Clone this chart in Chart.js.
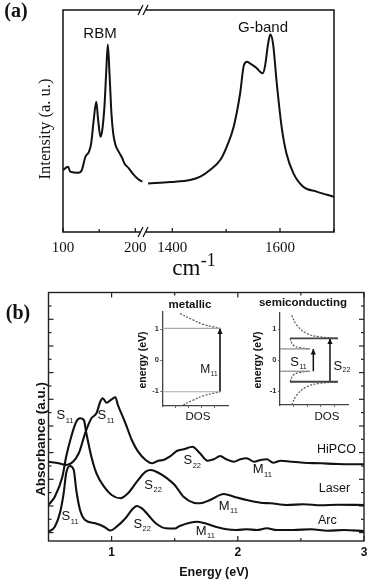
<!DOCTYPE html>
<html>
<head>
<meta charset="utf-8">
<script src="https://cdn.jsdelivr.net/npm/chart.js@4.4.1/dist/chart.umd.min.js"></script>
<style>
  html, body { margin:0; padding:0; background:#fff; }
  #wrap { position:relative; width:370px; height:583px; overflow:hidden; background:#fff; }
  #wrap canvas { position:absolute; }
</style>
</head>
<body>
<div id="wrap">
  <canvas id="chartA" width="370" height="290" style="left:0;top:0;width:370px;height:290px;"></canvas>
  <canvas id="chartB" width="370" height="293" style="left:0;top:290px;width:370px;height:293px;"></canvas>
  <canvas id="insetM" width="104" height="135" style="left:128px;top:295px;width:104px;height:135px;"></canvas>
  <canvas id="insetS" width="112" height="135" style="left:240px;top:295px;width:112px;height:135px;"></canvas>
</div>
<script>
// ================= DATA =================
// Panel (a): Raman spectrum, wavenumber (cm-1) vs intensity (a.u.)
const ramanLowX  = [100,107,110,121,126,131,136,139,142.5,146,148.6,151.8,154,157.3,159.7,162,164.3,167,169.4,172.6,177,182,185,191,198,203.6,209.7];
const ramanLowY  = [27.9,29.4,27.2,26.7,27.9,33.9,36.2,40,50.5,58.7,50.5,42.9,45.2,56.4,71.5,84.5,71.5,53.5,44.5,39.2,36.2,33.2,30.9,28.7,25.7,23.9,22.7];
const ramanHighX = [1355,1396,1433,1452,1470,1489,1501,1514,1526,1533,1539,1544,1556,1563,1568,1572,1578,1582,1587,1594,1603,1612,1625,1643,1668,1700];
const ramanHighY = [21.9,22.5,23.4,24.9,27.9,32.4,38.4,47.4,62.5,75.2,76.7,76.0,74.0,72.2,71.5,74.5,85.0,89.0,85.0,67.0,47.4,35.4,26.4,20.4,18.2,15.9];
const aTickValues = [100,150,200,1400,1500,1600,1700];
const aTickLabels = ['100','','200','1400','','1600',''];

// Panel (b): absorbance vs energy (eV)
const hipcoE = [0.50,0.58,0.64,0.74,0.79,0.84,0.88,0.91,0.93,0.96,1.00,1.03,1.05,1.11,1.16,1.21,1.27,1.32,1.37,1.41,1.46,1.52,1.57,1.64,1.70,1.76,1.81,1.86,1.91,1.97,2.02,2.07,2.13,2.18,2.23,2.28,2.34,2.42,2.52,2.66,2.79,3.00];
const hipcoA = [79.3,77.7,76,87.7,107.7,122.7,127.7,139.3,142.7,138.3,141.7,143.7,136,117.7,101,89.3,81,77.7,80.3,81,84.3,90.3,91.7,94.3,87.7,80.3,81.7,85,81.7,79.3,81.7,82.7,79.3,81,81.7,78.3,80.3,79.3,78.3,77.7,77,76.7];
const laserE = [0.50,0.55,0.61,0.64,0.68,0.72,0.75,0.78,0.80,0.84,0.88,0.94,1.00,1.07,1.13,1.20,1.27,1.31,1.37,1.44,1.50,1.57,1.65,1.70,1.78,1.89,1.97,2.07,2.18,2.26,2.39,2.52,2.66,2.79,3.00];
const laserA = [36,44.3,64.3,84.3,104.3,119.3,122.7,121,107.7,84.3,67.7,54.3,46,42.7,47.7,59.3,69.3,71,68.3,62.7,56,44.3,38.3,37.7,41,47,44.3,41,38.3,37.7,36,36.7,35.7,36.3,36];
const arcE   = [0.50,0.55,0.59,0.62,0.64,0.67,0.70,0.72,0.75,0.79,0.87,0.94,0.99,1.04,1.11,1.16,1.20,1.24,1.29,1.35,1.43,1.50,1.54,1.62,1.68,1.76,1.84,1.91,1.99,2.07,2.15,2.23,2.31,2.44,2.58,2.71,2.84,3.00];
const arcA   = [9.3,14.3,27.7,47.7,67.7,75,71,51,31,21,17.7,14.3,10.5,14.3,22.7,31,35,32.7,26,17.7,12.7,12.5,15,18.3,19.3,17,13.7,11.7,11,11.7,11,12.7,11,11,11.7,10.3,11,10];
const bXTickValues = [1, 1.5, 2, 2.5, 3];
const bXTickLabels = ['1', '', '2', '', '3'];
const bYTickValues = [8.4,21.7,35,48.4,61.7,75,88.4,101.7,115,128.4,141.7,155,168.4,181.7,195,208.4,221.7,235];

// Insets: density of states (DOS) vs energy (eV)
const insetETicks = [-1, 0, 1];
const insetDosTicks = [2, 4, 6, 8];
const metalDosX      = [2.69, 4.72, 6.24, 7.76, 8.78];
const metalDosUpperE = [1.50, 1.29, 1.15, 1.07, 1.03];
const metalDosLowerE = [-1.50, -1.29, -1.15, -1.07, -1.03];
const metalLevelX    = [0, 8.78];
const metalLevelE    = [1.02, -1.02];
const metalArrowX    = [8.78, 8.78];
const metalArrowE    = [-1.02, 1.02];
const semiOuterX      = [1.72, 2.46, 3.93, 5.88, 8.53];
const semiOuterUpperE = [1.45, 1.13, 0.86, 0.75, 0.71];
const semiOuterLowerE = [-1.45, -1.13, -0.86, -0.75, -0.71];
const semiInnerX      = [1.47, 1.96, 2.94, 4.41];
const semiInnerUpperE = [0.70, 0.48, 0.40, 0.36];
const semiInnerLowerE = [-0.70, -0.48, -0.40, -0.36];
const semiS22LevelX = [1.47, 8.53];
const semiS22LevelE = [0.70, -0.70];
const semiS11LevelX = [0, 4.41];
const semiS11LevelE = [0.36, -0.36];
const semiS11ArrowX = [4.9, 4.9];
const semiS11ArrowE = [-0.36, 0.36];
const semiS22ArrowX = [7.35, 7.35];
const semiS22ArrowE = [-0.70, 0.70];

// ================= HELPERS =================
const SANS = '"Liberation Sans", Arial, sans-serif';
const SERIF = '"Liberation Serif", "Times New Roman", serif';
Chart.defaults.font.family = SANS;
Chart.defaults.color = '#111';
Chart.defaults.animation = false;
Chart.defaults.events = [];
Chart.defaults.plugins.legend.display = false;
Chart.defaults.plugins.tooltip.enabled = false;

// broken x axis of panel (a): two wavenumber ranges placed side by side
const axisBreakU = 80;
function toU(w) { return w < 800 ? (w - 100) * 0.723 : 109.3 + (w - 1400) * 0.5385; }
function pts(xs, ys, fx) { return xs.map((x, i) => ({ x: fx ? fx(x) : x, y: ys[i] })); }
function hline(xs, e) { return [{ x: xs[0], y: e }, { x: xs[1], y: e }]; }
function fixedAxis(size, horizontal) {
  return s => {
    if (horizontal) s.height = size; else s.width = size;
    s.paddingLeft = 0; s.paddingRight = 0; s.paddingTop = 0; s.paddingBottom = 0;
  };
}
function drawText(ctx, it, x, y) {
  ctx.save();
  ctx.translate(x, y);
  if (it.rot) ctx.rotate(it.rot);
  ctx.fillStyle = it.color || '#111';
  ctx.textBaseline = it.baseline || 'middle';
  ctx.font = it.font;
  const w1 = ctx.measureText(it.text).width;
  let w2 = 0;
  if (it.sub) { ctx.font = it.subFont; w2 = ctx.measureText(it.sub).width + 0.5; }
  const x0 = it.align === 'left' ? 0 : -(w1 + w2) / 2;
  ctx.textAlign = 'left';
  ctx.font = it.font;
  ctx.fillText(it.text, x0, 0);
  if (it.sub) { ctx.font = it.subFont; ctx.fillText(it.sub, x0 + w1 + 0.5, it.subDy); }
  ctx.restore();
}
function decorPlugin(cfg) {
  return {
    id: 'decor_' + cfg.name,
    afterDatasetsDraw(chart) {
      const ctx = chart.ctx;
      chart.data.datasets.forEach((ds, i) => {
        if (!ds.arrowHead) return;
        const el = chart.getDatasetMeta(i).data;
        const p1 = el[el.length - 2], p2 = el[el.length - 1];
        const ang = Math.atan2(p2.y - p1.y, p2.x - p1.x);
        const L = 5.5, W = 2.6;
        ctx.save();
        ctx.fillStyle = ds.borderColor;
        ctx.beginPath();
        ctx.moveTo(p2.x, p2.y);
        ctx.lineTo(p2.x - L * Math.cos(ang) + W * Math.sin(ang), p2.y - L * Math.sin(ang) - W * Math.cos(ang));
        ctx.lineTo(p2.x - L * Math.cos(ang) - W * Math.sin(ang), p2.y - L * Math.sin(ang) + W * Math.cos(ang));
        ctx.closePath();
        ctx.fill();
        ctx.restore();
      });
    },
    afterDraw(chart) {
      const { ctx, chartArea: a, scales } = chart;
      ctx.save();
      if (cfg.frame) {
        ctx.strokeStyle = cfg.frame.color; ctx.lineWidth = cfg.frame.width;
        ctx.strokeRect(a.left, a.top, a.right - a.left, a.bottom - a.top);
      }
      if (cfg.ticks) {
        const t = cfg.ticks;
        ctx.strokeStyle = t.color; ctx.lineWidth = t.width;
        const seg = (x1, y1, x2, y2) => { ctx.beginPath(); ctx.moveTo(x1, y1); ctx.lineTo(x2, y2); ctx.stroke(); };
        (t.x || []).forEach(k => {
          const px = scales.x.getPixelForValue(k.v), L = k.major ? t.major : t.minor;
          if (t.sides.includes('bottom')) seg(px, a.bottom, px, a.bottom - L);
          if (t.sides.includes('top')) seg(px, a.top, px, a.top + L);
        });
        (t.y || []).forEach(k => {
          const py = scales.y.getPixelForValue(k.v), L = k.major ? t.major : t.minor;
          if (t.sides.includes('left')) seg(a.left, py, a.left + L, py);
          if (t.sides.includes('right')) seg(a.right, py, a.right - L, py);
        });
      }
      ctx.restore();
      if (cfg.after) cfg.after(chart);
      for (const it of cfg.texts || []) {
        const x = it.data ? scales.x.getPixelForValue(it.x) : it.x;
        const y = it.data ? scales.y.getPixelForValue(it.y) : it.y;
        drawText(ctx, it, x, y);
      }
    }
  };
}

// ================= PANEL (a) =================
const lineA = { borderColor: '#111', borderWidth: 2, pointRadius: 0, fill: false, cubicInterpolationMode: 'monotone' };
new Chart(document.getElementById('chartA'), {
  type: 'line',
  data: { datasets: [
    { data: pts(ramanLowX, ramanLowY, toU), ...lineA },
    { data: pts(ramanHighX, ramanHighY, toU), ...lineA }
  ]},
  options: {
    responsive: false, devicePixelRatio: 1,
    layout: { padding: { left: 0, right: 36, top: 10, bottom: 0 } },
    scales: {
      x: { type: 'linear', min: 0, max: 271,
        afterBuildTicks: s => { s.ticks = aTickValues.map(w => ({ value: toU(w) })); },
        ticks: { autoSkip: false, maxRotation: 0, padding: 7, color: '#111', font: { family: SERIF, size: 15 },
                 callback: (v, i) => aTickLabels[i] },
        grid: { display: false, drawTicks: false }, border: { display: false },
        afterFit: fixedAxis(58, true) },
      y: { min: 0, max: 100, ticks: { display: false }, grid: { display: false, drawTicks: false },
        border: { display: false }, afterFit: fixedAxis(63, false) }
    }
  },
  plugins: [decorPlugin({
    name: 'a',
    frame: { color: '#111', width: 1.5 },
    ticks: { color: '#111', width: 1.2, major: 4, minor: 3, sides: ['bottom'],
             x: aTickValues.map((w, i) => ({ v: toU(w), major: aTickLabels[i] !== '' })) },
    after(chart) {
      const { ctx, chartArea: a, scales } = chart;
      const xb = scales.x.getPixelForValue(axisBreakU);
      ctx.save();
      for (const yb of [a.top, a.bottom]) {
        ctx.fillStyle = '#fff'; ctx.fillRect(xb - 3, yb - 2, 6, 4);
        ctx.strokeStyle = '#111'; ctx.lineWidth = 1.3;
        for (const dx of [-2.5, 2.5]) {
          ctx.beginPath(); ctx.moveTo(xb + dx - 2.5, yb + 5); ctx.lineTo(xb + dx + 2.5, yb - 5); ctx.stroke();
        }
      }
      ctx.restore();
    },
    texts: [
      { text: '(a)', x: 16, y: 17, font: `bold 20px ${SERIF}`, baseline: 'alphabetic' },
      { text: 'RBM', x: 100, y: 38, font: `15px ${SANS}`, baseline: 'alphabetic' },
      { text: 'G-band', x: 263, y: 31.5, font: `15px ${SANS}`, baseline: 'alphabetic' },
      { text: 'Intensity (a. u.)', x: 46, y: 129, rot: -Math.PI / 2, font: `16.5px ${SERIF}` },
      { text: 'cm', sub: '-1', x: 194, y: 275, font: `23px ${SERIF}`, subFont: `18px ${SERIF}`, subDy: -9, baseline: 'alphabetic' }
    ]
  })]
});

// ================= PANEL (b) =================
const lineB = { borderColor: '#111', borderWidth: 2.1, pointRadius: 0, fill: false, cubicInterpolationMode: 'monotone' };
const sLab = { data: true, font: `13px ${SANS}`, subFont: `7.5px ${SANS}`, subDy: 5 };
const nLab = { data: true, font: `12.5px ${SANS}` };
new Chart(document.getElementById('chartB'), {
  type: 'line',
  data: { datasets: [
    { label: 'HiPCO', data: pts(hipcoE, hipcoA), ...lineB },
    { label: 'Laser', data: pts(laserE, laserA), ...lineB },
    { label: 'Arc', data: pts(arcE, arcA), ...lineB }
  ]},
  options: {
    responsive: false, devicePixelRatio: 1,
    layout: { padding: { left: 0, right: 6, top: 2.5, bottom: 0 } },
    scales: {
      x: { type: 'linear', min: 0.5, max: 3,
        afterBuildTicks: s => { s.ticks = bXTickValues.map(v => ({ value: v })); },
        ticks: { autoSkip: false, maxRotation: 0, padding: 4, color: '#111', font: { family: SANS, size: 12, weight: 'bold' },
                 callback: (v, i) => bXTickLabels[i] },
        grid: { display: false, drawTicks: false }, border: { display: false },
        afterFit: fixedAxis(42, true) },
      y: { min: 0, max: 248.5,
        afterBuildTicks: s => { s.ticks = bYTickValues.map(v => ({ value: v })); },
        ticks: { display: false }, grid: { display: false, drawTicks: false },
        border: { display: false }, afterFit: fixedAxis(48.5, false) }
    }
  },
  plugins: [decorPlugin({
    name: 'b',
    frame: { color: '#222', width: 1.4 },
    ticks: { color: '#222', width: 1.2, major: 5, minor: 3, sides: ['bottom', 'top', 'left', 'right'],
             x: bXTickValues.map((v, i) => ({ v, major: bXTickLabels[i] !== '' })),
             y: bYTickValues.map((v, i) => ({ v, major: i % 2 === 0 })) },
    texts: [
      { text: '(b)', x: 18, y: 29, font: `bold 20px ${SERIF}`, baseline: 'alphabetic' },
      { text: 'Absorbance (a.u.)', x: 41, y: 149, rot: -Math.PI / 2, font: `bold 13.5px ${SANS}` },
      { text: 'Energy (eV)', x: 214, y: 283, font: `bold 12.5px ${SANS}` },
      { text: 'S', sub: '11', x: 0.631, y: 125.3, ...sLab },
      { text: 'S', sub: '11', x: 0.956, y: 125.3, ...sLab },
      { text: 'S', sub: '11', x: 0.671, y: 24.3, ...sLab },
      { text: 'S', sub: '22', x: 1.639, y: 80.5, ...sLab },
      { text: 'S', sub: '22', x: 1.329, y: 55.7, ...sLab },
      { text: 'S', sub: '22', x: 1.242, y: 17, ...sLab },
      { text: 'M', sub: '11', x: 2.194, y: 71.5, ...sLab },
      { text: 'M', sub: '11', x: 1.925, y: 35, ...sLab },
      { text: 'M', sub: '11', x: 1.742, y: 9.8, ...sLab },
      { text: 'HiPCO', x: 2.782, y: 91, ...nLab },
      { text: 'Laser', x: 2.766, y: 52, ...nLab },
      { text: 'Arc', x: 2.71, y: 20, ...nLab }
    ]
  })]
});

// ================= INSETS =================
const dosStyle = { borderColor: '#555', borderWidth: 1.2, borderDash: [2, 1.5], pointRadius: 0, fill: false, tension: 0.4 };
function insetScales(yMin, yMax, yWidth, xHeight) {
  return {
    x: { type: 'linear', min: 0, max: 10,
      afterBuildTicks: s => { s.ticks = insetDosTicks.map(v => ({ value: v })); },
      ticks: { display: false },
      grid: { display: true, drawOnChartArea: false, drawTicks: true, tickLength: 2, color: '#666' },
      border: { display: true, color: '#444', width: 1.3 },
      afterFit: fixedAxis(xHeight, true) },
    y: { min: yMin, max: yMax,
      afterBuildTicks: s => { s.ticks = insetETicks.map(v => ({ value: v })); },
      ticks: { padding: 1.5, color: '#333', font: { family: SANS, size: 7.5, weight: 'bold' }, callback: v => String(v) },
      grid: { display: true, drawOnChartArea: false, drawTicks: true, tickLength: 2, color: '#666' },
      border: { display: true, color: '#444', width: 1.3 },
      afterFit: fixedAxis(yWidth, false) }
  };
}
const insetTitle = `bold 11.5px ${SANS}`;
const insetAxis = `bold 10.5px ${SANS}`;

new Chart(document.getElementById('insetM'), {
  type: 'line',
  data: { datasets: [
    { data: hline(metalLevelX, metalLevelE[0]), borderColor: '#aaa', borderWidth: 1.2, pointRadius: 0 },
    { data: hline(metalLevelX, metalLevelE[1]), borderColor: '#aaa', borderWidth: 1.2, pointRadius: 0 },
    { data: pts(metalDosX, metalDosUpperE), ...dosStyle },
    { data: pts(metalDosX, metalDosLowerE), ...dosStyle },
    { data: pts(metalArrowX, metalArrowE), borderColor: '#111', borderWidth: 1.6, pointRadius: 0, arrowHead: true }
  ]},
  options: {
    responsive: false, devicePixelRatio: 1,
    layout: { padding: { left: 0, right: 4, top: 16.7, bottom: 0 } },
    scales: insetScales(-1.48, 1.56, 34.3, 24)
  },
  plugins: [decorPlugin({
    name: 'm',
    texts: [
      { text: 'metallic', x: 62, y: 10, font: insetTitle },
      { text: 'energy (eV)', x: 15, y: 65, rot: -Math.PI / 2, font: insetAxis },
      { text: 'DOS', x: 70, y: 122, font: `11.5px ${SANS}` },
      { data: true, text: 'M', sub: '11', x: 7.1, y: -0.32, font: `12px ${SANS}`, subFont: `6.5px ${SANS}`, subDy: 4 }
    ]
  })]
});

new Chart(document.getElementById('insetS'), {
  type: 'line',
  data: { datasets: [
    { data: hline(semiS22LevelX, semiS22LevelE[0]), borderColor: '#444', borderWidth: 1.8, pointRadius: 0 },
    { data: hline(semiS22LevelX, semiS22LevelE[1]), borderColor: '#444', borderWidth: 1.8, pointRadius: 0 },
    { data: hline(semiS11LevelX, semiS11LevelE[0]), borderColor: '#888', borderWidth: 1.2, pointRadius: 0 },
    { data: hline(semiS11LevelX, semiS11LevelE[1]), borderColor: '#888', borderWidth: 1.2, pointRadius: 0 },
    { data: pts(semiOuterX, semiOuterUpperE), ...dosStyle },
    { data: pts(semiOuterX, semiOuterLowerE), ...dosStyle },
    { data: pts(semiInnerX, semiInnerUpperE), ...dosStyle },
    { data: pts(semiInnerX, semiInnerLowerE), ...dosStyle },
    { data: pts(semiS11ArrowX, semiS11ArrowE), borderColor: '#111', borderWidth: 1.5, pointRadius: 0, arrowHead: true },
    { data: pts(semiS22ArrowX, semiS22ArrowE), borderColor: '#111', borderWidth: 1.5, pointRadius: 0, arrowHead: true }
  ]},
  options: {
    responsive: false, devicePixelRatio: 1,
    layout: { padding: { left: 0, right: 4, top: 18, bottom: 0 } },
    scales: insetScales(-1.45, 1.52, 40, 25)
  },
  plugins: [decorPlugin({
    name: 's',
    texts: [
      { text: 'semiconducting', x: 63, y: 8, font: insetTitle },
      { text: 'energy (eV)', x: 18, y: 65, rot: -Math.PI / 2, font: insetAxis },
      { text: 'DOS', x: 87, y: 122, font: `11.5px ${SANS}` },
      { data: true, text: 'S', sub: '11', x: 2.72, y: -0.08, font: `13px ${SANS}`, subFont: `7px ${SANS}`, subDy: 4.5 },
      { data: true, text: 'S', sub: '22', x: 9.1, y: -0.19, font: `13px ${SANS}`, subFont: `7px ${SANS}`, subDy: 4.5 }
    ]
  })]
});
</script>
</body>
</html>
